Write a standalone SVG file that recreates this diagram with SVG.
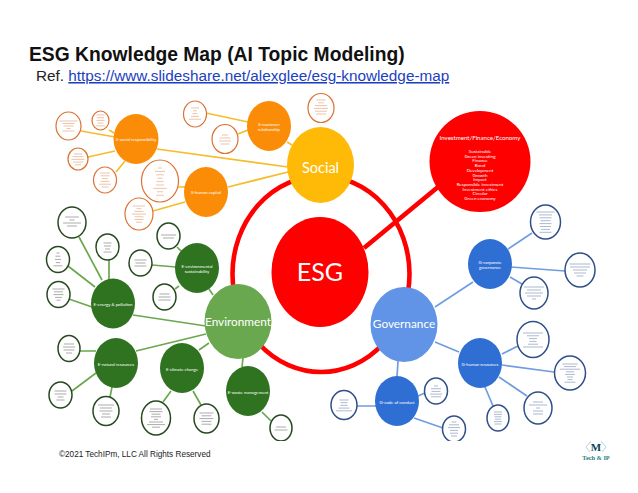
<svg xmlns="http://www.w3.org/2000/svg" width="638" height="493" viewBox="0 0 638 493">
<!-- The leaf-node wording is too blurred in the reference to read, so it is shown as neutral greeked lines (class g*) rather than invented words. -->
<style>
text{font-family:"Lato","Noto Sans",sans-serif;fill:#fff;text-anchor:middle}
.h{font-family:"Liberation Sans",Arial,sans-serif;text-anchor:start;fill:#1a1a1a}
.sub{font-size:4.3px}
.c{fill:none;stroke-linecap:butt}
.cs{stroke:#f6bd2a;stroke-width:1.7}
.ce{stroke:#6aa84f;stroke-width:1.7}
.cb{stroke:#6f9de0;stroke-width:1.7}
.ls{fill:#fff;stroke:#dd7130;stroke-width:1.2}
.le{fill:#fff;stroke:#26491f;stroke-width:1.5}
.lb{fill:#fff;stroke:#2f4f88;stroke-width:1.5}
.gs,.ge,.gb{fill:none;stroke-width:.9;stroke-opacity:.42}
.gs{stroke:#cf5f1c}.ge{stroke:#222}.gb{stroke:#24457f}
.ns{fill:#fb8c07}.ne{fill:#2f7321}.nb{fill:#2f6fd4}
</style>
<rect width="638" height="493" fill="#fff"/>
<g id="connectors" class="c">
<path class="cs" d="M157 149L288 167M228 187L288 172M287 142L292 145M109 130L114 133M81 131L115 137M88 157L115 151M116 172L125 161M178 187L185 187M153 211L185 202M206 113L248 122M238 134L248 130M334 104L321 109"/>
<path class="ce" d="M133 315L206 326M136 351L206 334M199 350L209 343M243 358L242 367M209 289L213 295M79 237L102 280M109 260L109 280M68 266L95 287M69 299L92 307M152 265L176 267M177 247L181 251M175 289L179 286M80 351L96 351M72 391L96 373M110 397L112 387M163 402L171 391M193 391L201 405M262 412L271 421"/>
<path class="cb" d="M435 307L473 282M435 342L459 352M398 361L397 377M508 249L532 233M511 267L565 271M510 277L522 284M502 354L518 346M502 365L554 372M499 377L527 396M485 387L493 406M357 406L376 406M418 396L425 393M414 418L443 428"/>
</g>
<ellipse id="ring" cx="321" cy="274" rx="88.5" ry="98" fill="none" stroke="#f00" stroke-width="4.6"/>
<path d="M364 248L438 187" stroke="#f00" stroke-width="4.6" fill="none"/>

<g id="esg"><ellipse cx="320" cy="272" rx="48.5" ry="55" fill="#f00"/><text x="320" y="281" font-size="25">ESG</text></g>
<g id="social"><ellipse cx="320.5" cy="165" rx="33.5" ry="38" fill="#ffba08"/><text x="320.5" y="173" font-size="14.5">Social</text></g>
<g id="environment"><ellipse cx="238" cy="321.5" rx="33.5" ry="37.5" fill="#6aa84f"/><text x="238" y="326" font-size="11.8">Environment</text></g>
<g id="governance"><ellipse cx="404" cy="324.5" rx="33.5" ry="37.5" fill="#6194e6"/><text x="404" y="328" font-size="11.8">Governance</text></g>
<g id="investment"><ellipse cx="480" cy="161.5" rx="50.5" ry="50.5" fill="#f00"/>
<text x="480" y="140" font-size="6.1">Investment/Finance/Economy</text>
<g font-size="4.5"><text x="480" y="153">Sustainable</text><text x="480" y="157.7">Green investing</text><text x="480" y="162.4">Finance</text><text x="480" y="167.1">Bond</text><text x="480" y="171.8">Development</text><text x="480" y="176.5">Growth</text><text x="480" y="181.2">Impact</text><text x="480" y="185.9">Responsible investment</text><text x="480" y="190.6">Investment ethics</text><text x="480" y="195.3">Circular</text><text x="480" y="200">Green economy</text></g></g>

<g id="s-social"><ellipse class="ns" cx="136" cy="139" rx="22.5" ry="25"/><text class="sub" x="136" y="141">S-social responsibility</text></g>
<g id="s-human"><ellipse class="ns" cx="206" cy="192" rx="22" ry="25"/><text class="sub" x="206" y="194">S-human capital</text></g>
<g id="s-customer"><ellipse class="ns" cx="269" cy="126" rx="22" ry="25"/><text class="sub" x="269" y="125.5">S-customer</text><text class="sub" x="269" y="130.5">relationship</text></g>
<g id="e-energy"><ellipse class="ne" cx="113" cy="303.5" rx="22" ry="25"/><text class="sub" x="113" y="306">E-energy &amp; pollution</text></g>
<g id="e-sustain"><ellipse class="ne" cx="197" cy="268" rx="22" ry="25"/><text class="sub" x="197" y="268">E-environmental</text><text class="sub" x="197" y="273">sustainability</text></g>
<g id="e-natural"><ellipse class="ne" cx="116" cy="363" rx="22" ry="25"/><text class="sub" x="116" y="365.5">E-natural resources</text></g>
<g id="e-climate"><ellipse class="ne" cx="182" cy="368" rx="22" ry="25"/><text class="sub" x="182" y="370.5">E-climate change</text></g>
<g id="e-waste"><ellipse class="ne" cx="248" cy="391" rx="22" ry="25"/><text class="sub" x="248" y="393.5">E-waste management</text></g>
<g id="g-corporate"><ellipse class="nb" cx="490" cy="264" rx="22" ry="25"/><text class="sub" x="490" y="264">G-corporate</text><text class="sub" x="490" y="269">governance</text></g>
<g id="g-human"><ellipse class="nb" cx="480" cy="363" rx="22" ry="25"/><text class="sub" x="480" y="365.5">G-human resources</text></g>
<g id="g-code"><ellipse class="nb" cx="397" cy="401" rx="22" ry="25"/><text class="sub" x="397" y="403.5">G-code of conduct</text></g>

<g id="s1"><ellipse class="ls" cx="68.5" cy="126" rx="12.5" ry="14"/><path class="gs" d="M59.5 121h18M62.5 123.5h12M63.5 126h10M66.5 128.5h4M62.5 131h12"/></g>
<g id="s2"><ellipse class="ls" cx="100.5" cy="120.5" rx="8.5" ry="9.5"/><path class="gs" d="M96.5 115h8M97 117.7h7M96.5 120.4h8M97.5 123.1h6M96 125.8h9"/></g>
<g id="s3"><ellipse class="ls" cx="78" cy="159" rx="10" ry="11"/><path class="gs" d="M74 154h8M72.500 156.700h11M71.500 159.400h13M73 162.100h10M75 164.800h6"/></g>
<g id="s4"><ellipse class="ls" cx="105" cy="180" rx="11.500" ry="13"/><path class="gs" d="M100 173h10M100.500 175.800h9M102 178.600h6M100.500 181.400h9M99 184.200h12M101.500 187h7"/></g>
<g id="s5"><ellipse class="ls" cx="160" cy="181" rx="18.500" ry="21"/><path class="gs" d="M158 168h4M155 171.400h10M156 174.800h8M157.500 178.200h5M156.500 181.600h7M156 185h8M153.500 188.400h13M157 191.800h6M156 195.200h8"/></g>
<g id="s6"><ellipse class="ls" cx="139" cy="214" rx="14" ry="16"/><path class="gs" d="M133 206h12M136.500 208.700h5M134.500 211.400h9M132 214.100h14M134.500 216.800h9M134.500 219.500h9M136 222.200h6"/></g>
<g id="s7"><ellipse class="ls" cx="195" cy="114" rx="11.500" ry="13"/><path class="gs" d="M191 108h8M193 110.800h4M192.500 113.600h5M191 116.400h8M189 119.200h12"/></g>
<g id="s8"><ellipse class="ls" cx="225" cy="139" rx="13" ry="14.500"/><path class="gs" d="M222 135h6M219.500 138h11M219 141h12M220.500 144h9"/></g>
<g id="s9"><ellipse class="ls" cx="321" cy="108" rx="13" ry="14.500"/><path class="gs" d="M316.500 100h9M318 102.800h6M315 105.600h12M314 108.400h14M315 111.200h12M316 114h10"/></g>

<g id="e1"><ellipse class="le" cx="72" cy="222.500" rx="14" ry="15.500"/><path class="ge" d="M65 217h14M69.500 220h5M63 223h18M67 226h10"/></g>
<g id="e2"><ellipse class="le" cx="107.500" cy="247" rx="11.500" ry="13"/><path class="ge" d="M103.500 243h8M104 246h7M105 249h5M103.500 252h8"/></g>
<g id="e3"><ellipse class="le" cx="58" cy="259.500" rx="11.500" ry="13"/><path class="ge" d="M56.500 253h3M55.500 256.200h5M55 259.400h6M56 262.600h4M53.500 265.800h9"/></g>
<g id="e4"><ellipse class="le" cx="58.500" cy="294.500" rx="11.500" ry="13"/><path class="ge" d="M52.500 289h12M54 291.800h9M53.500 294.600h10M55 297.400h7M56.500 300.200h4"/></g>
<g id="e5"><ellipse class="le" cx="140.500" cy="263" rx="11.500" ry="13"/><path class="ge" d="M134.500 260h12M135.500 263h10M134.500 266h12"/></g>
<g id="e6"><ellipse class="le" cx="168.500" cy="236" rx="11.500" ry="13"/><path class="ge" d="M161 235h15M163 238h11"/></g>
<g id="e7"><ellipse class="le" cx="164.500" cy="297" rx="11.500" ry="13"/><path class="ge" d="M159.500 294h10M158.500 297h12M158.500 300h12"/></g>
<g id="e8"><ellipse class="le" cx="69" cy="348.500" rx="11" ry="13"/><path class="ge" d="M64 344h10M63 347h12M63.500 350h11M66 353h6"/></g>
<g id="e9"><ellipse class="le" cx="60.500" cy="395" rx="11.500" ry="13"/><path class="ge" d="M54.500 391h12M54.500 394h12M57.500 397h6M56.500 400h8"/></g>
<g id="e10"><ellipse class="le" cx="106" cy="411" rx="13" ry="14.500"/><path class="ge" d="M98 405h16M100 408h12M99.500 411h13M102 414h8M101 417h10"/></g>
<g id="e11"><ellipse class="le" cx="156" cy="418" rx="14.500" ry="17"/><path class="ge" d="M150 409h12M149.500 411.600h13M151.500 414.200h9M151 416.800h10M154 419.400h4M149 422h14M147 424.600h18M152 427.200h8"/></g>
<g id="e12"><ellipse class="le" cx="206.500" cy="418.500" rx="12.500" ry="14.500"/><path class="ge" d="M199.500 413h14M201.500 415.800h10M199.500 418.600h14M201.500 421.400h10M201.500 424.200h10"/></g>
<g id="e13"><ellipse class="le" cx="281" cy="428" rx="11" ry="13"/><path class="ge" d="M276 427h10M274.500 430h13"/></g>

<g id="g1"><ellipse class="lb" cx="545.500" cy="222" rx="15" ry="17"/><path class="gb" d="M536.500 212h18M539 214.900h13M539.500 217.800h12M540.500 220.700h10M539.500 223.600h12M540 226.500h11M541 229.400h9M539.500 232.300h12"/></g>
<g id="g2"><ellipse class="lb" cx="580" cy="270" rx="15" ry="17"/><path class="gb" d="M569.500 264h21M570 267h20M573 270h14M574 273h12M576.500 276h7"/></g>
<g id="g3"><ellipse class="lb" cx="534" cy="293" rx="14" ry="16"/><path class="gb" d="M524 287h20M527 290h14M525 293h18M527 296h14M532 299h4"/></g>
<g id="g4"><ellipse class="lb" cx="533" cy="339.500" rx="16" ry="18"/><path class="gb" d="M523 333h20M527 335.800h12M529 338.600h8M529.500 341.400h7M528 344.200h10M523 347h20"/></g>
<g id="g5"><ellipse class="lb" cx="570" cy="373" rx="15.500" ry="17"/><path class="gb" d="M562.500 364h15M564 366.600h12M560 369.200h20M566 371.800h8M565 374.400h10M567 377h6M567.500 379.600h5M564.500 382.200h11"/></g>
<g id="g6"><ellipse class="lb" cx="538" cy="408" rx="14" ry="16"/><path class="gb" d="M533 402h10M529 405h18M536 408h4M533 411h10M533 414h10"/></g>
<g id="g7"><ellipse class="lb" cx="498" cy="418" rx="11" ry="13"/><path class="gb" d="M494 412h8M494 414.400h8M494.500 416.800h7M495 419.200h6M494 421.600h8M494.500 424h7"/></g>
<g id="g8"><ellipse class="lb" cx="344" cy="405" rx="13" ry="14.500"/><path class="gb" d="M339.500 400h9M340.500 402.700h7M340.500 405.400h7M338.500 408.100h11M336 410.800h16"/></g>
<g id="g9"><ellipse class="lb" cx="436" cy="391" rx="11.500" ry="13"/><path class="gb" d="M434 386h4M431 388.700h10M431.500 391.400h9M430 394.100h12M431 396.800h10"/></g>
<g id="g10"><ellipse class="lb" cx="454" cy="429" rx="11.500" ry="13"/><path class="gb" d="M451.500 422h5M449 424.800h10M448 427.600h12M450 430.400h8M450 433.200h8M451 436h6"/></g>

<rect id="crop" x="0" y="441" width="638" height="52" fill="#fff"/>
<g id="title">
<text class="h" x="29" y="60.500" font-size="19.300" font-weight="700" style="fill:#111">ESG Knowledge Map (AI Topic Modeling)</text>
<text class="h" x="36" y="81" font-size="15.300" style="fill:#222">Ref. <tspan style="fill:#1c3fbf" text-decoration="underline">https://www.slideshare.net/alexglee/esg-knowledge-map</tspan></text>
</g>
<text id="footer" class="h" x="59" y="457" font-size="8.200">©2021 TechIPm, LLC All Rights Reserved</text>
<g id="logo">
<path d="M590 452L586 447L591 441M602 452L606 447L601 441" fill="none" stroke="#a9d7e2" stroke-width="1"/>
<text x="596" y="451" font-size="11" font-weight="700" style="font-family:'Liberation Serif',serif;fill:#123f55">M</text>
<text x="596" y="460" font-size="6.300" font-weight="700" style="font-family:'Liberation Serif',serif;fill:#1f7f80">Tech &amp; IP</text>
</g>
</svg>
